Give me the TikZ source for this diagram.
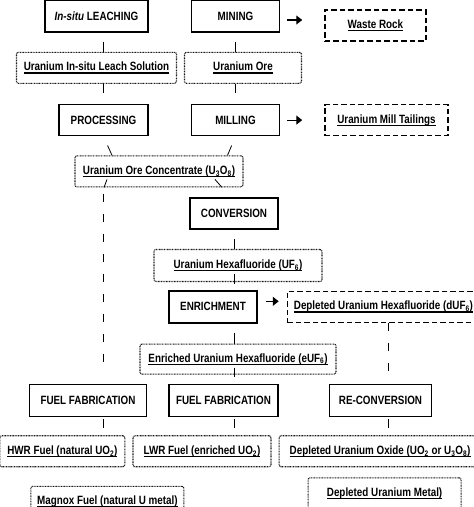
\documentclass[tikz,border=0pt]{standalone}
\usepackage{fontspec}
\setmainfont{Liberation Sans}[FakeStretch=0.82]
\usetikzlibrary{positioning,arrows.meta}
\newcommand{\undl}[1]{\setbox0\hbox{#1}\rlap{\raisebox{-2.7pt}{\rule{\wd0}{1.3pt}}}\box0}

\begin{document}
\begin{tikzpicture}[x=1pt,y=1pt,thick,
    step node/.style={draw,line width=1.5pt,minimum height=32pt,inner sep=0pt,font=\bfseries\fontsize{12}{13}\selectfont},
    stuff node/.style={draw=black!90,line width=1.1pt,dash pattern=on 0.9pt off 0.7pt,rounded corners=2pt,minimum height=31pt,inner sep=0pt,font=\bfseries\fontsize{12}{13}\selectfont},
    waste node/.style={draw,line width=1.4pt,dash pattern=on 5.5pt off 3pt,minimum height=31pt,inner sep=0pt,font=\bfseries\fontsize{12}{13}\selectfont},
    link/.style={line width=0.8pt},
    gap link/.style={link,dash pattern=on 8pt off 12pt},
    out arrow/.style={double,double distance=1.8pt,line width=1.1pt,-{Triangle[length=6pt,width=9pt]}}]
                \useasboundingbox (0,0) rectangle (474,-507);
                \node[step node,minimum width=103pt] (leach) at (96.5,-16) {\textit{In-situ} LEACHING};
                \node[step node,minimum width=88pt] (mine) [right=42pt of leach] {MINING};
                \node[waste node,minimum width=101pt] (rock) [right=44pt of mine,yshift=-9.5pt] {\undl{Waste Rock}};
                \node[stuff node,minimum width=160pt] (leachsol) [below=19pt of leach] {\undl{Uranium In-situ Leach Solution}};
                \node[stuff node,minimum width=117pt] (ore) [below=19pt of mine,xshift=7.5pt] {\undl{Uranium Ore}};
                \node[step node,minimum width=89pt,minimum height=31pt] (proc) [below=20pt of leachsol,xshift=7pt] {PROCESSING};
                \node[step node,minimum width=88pt,minimum height=31pt] (mill) [below=20pt of ore,xshift=-7.5pt] {MILLING};
                \node[waste node,minimum width=123pt] (tail) [right=44pt of mill] {\undl{Uranium Mill Tailings}};
                \node[stuff node,minimum width=168pt] (conc) [below=19pt of proc,xshift=55.5pt] {\undl{Uranium Ore Concentrate (U\textsubscript{3}O\textsubscript{8})}};
                \node[step node,minimum width=88pt,minimum height=31pt] (conv) [below=10pt of conc,xshift=75pt] {CONVERSION};
                \node[stuff node,minimum width=168pt,minimum height=32pt] (uf) [below=19pt of conv,xshift=4pt] {\undl{Uranium Hexafluoride (UF\textsubscript{6})}};
                \node[step node,minimum width=88pt] (enrich) [below=8pt of uf,xshift=-25pt] {ENRICHMENT};
                \node[waste node,minimum width=192pt] (duf) [right=29pt of enrich] {\undl{Depleted Uranium Hexafluoride (dUF\textsubscript{6})}};
                \node[stuff node,minimum width=196pt,minimum height=30pt] (euf) [below=20pt of enrich,xshift=25pt] {\undl{Enriched Uranium Hexafluoride (eUF\textsubscript{6})}};
                \node[step node,minimum width=109pt] (fab2) [below=9pt of euf,xshift=-14.5pt] {FUEL FABRICATION};
                \node[step node,minimum width=117pt] (fab1) [left=21pt of fab2] {FUEL FABRICATION};
                \node[step node,minimum width=102pt] (reconv) [right=50pt of fab2] {RE-CONVERSION};
                \node[stuff node,minimum width=138pt] (lwr) [below=18pt of fab2,xshift=-21.5pt] {\undl{LWR Fuel (enriched UO\textsubscript{2})}};
                \node[stuff node,minimum width=125pt] (hwr) [left=7pt of lwr] {\undl{HWR Fuel (natural UO\textsubscript{2})}};
                \node[stuff node,minimum width=202pt] (duox) [right=7pt of lwr] {\undl{Depleted Uranium Oxide (UO\textsubscript{2} or U\textsubscript{3}O\textsubscript{8})}};
                \node[stuff node,minimum width=153pt] (magnox) [below=18.5pt of hwr,xshift=45pt] {\undl{Magnox Fuel (natural U metal)}};
                \node[stuff node,minimum width=153pt] (dumetal) [below=10pt of duox,xshift=4.5pt] {\undl{Depleted Uranium Metal)}};

                \path[link]
                    (leach.south -| proc) edge[shorten <=9pt] (leachsol.north -| proc)
                    (leachsol.south -| proc) edge[shorten >=11pt] (proc.north)
                    (mine.south) edge[shorten <=9pt] (ore.north -| mine)
                    (ore.south -| mill) edge[shorten >=11pt] (mill.north)
                    (proc.south) edge[shorten <=10pt] ([xshift=8.5pt]proc.south |- conc.north)
                    (mill.south) edge[shorten <=10pt] ([xshift=-8pt]mill.south |- conc.north)
                    ([xshift=-52pt,yshift=8pt]conc.south) edge ([xshift=-55pt]conc.south)
                    ([xshift=56pt,yshift=8pt]conc.south) edge ([xshift=63pt]conc.south)
                    (conc.south -| proc) edge[gap link,shorten <=7pt,shorten >=11pt] (fab1.north -| proc)
                    (conv.south) edge[shorten <=9pt] (uf.north -| conv)
                    (uf.south -| conv) edge[shorten <=-8pt,shorten >=6pt] (enrich.north -| conv)
                    (enrich.south -| conv) edge[shorten <=9pt] (euf.north -| conv)
                    (euf.south -| conv) edge[shorten <=-7pt,shorten >=7pt] (fab2.north -| conv)
                    ([xshift=8pt]reconv.north |- duf.south) edge[gap link,shorten >=11pt] ([xshift=8pt]reconv.north)
                    (fab1.south -| proc) edge[shorten <=2pt,shorten >=7pt] (hwr.north -| proc)
                    (fab2.south -| conv) edge[shorten <=2pt,shorten >=7pt] (lwr.north -| conv)
                    ([xshift=8pt]reconv.south) edge[shorten <=2pt,shorten >=7pt] ([xshift=8pt]reconv.south |- duox.north)
                    ;
                \path[out arrow]
                    ([yshift=-4pt]mine.east) edge[shorten <=7pt,shorten >=22pt] ([yshift=-4pt]mine.east -| rock.west)
                    (mill.east) edge[shorten <=7pt,shorten >=22pt] (mill.east -| tail.west)
                    ([yshift=5.5pt]enrich.east) edge[shorten <=8pt,shorten >=8pt] ([yshift=5.5pt]enrich.east -| duf.west)
                    ;
            \end{tikzpicture}
\end{document}
